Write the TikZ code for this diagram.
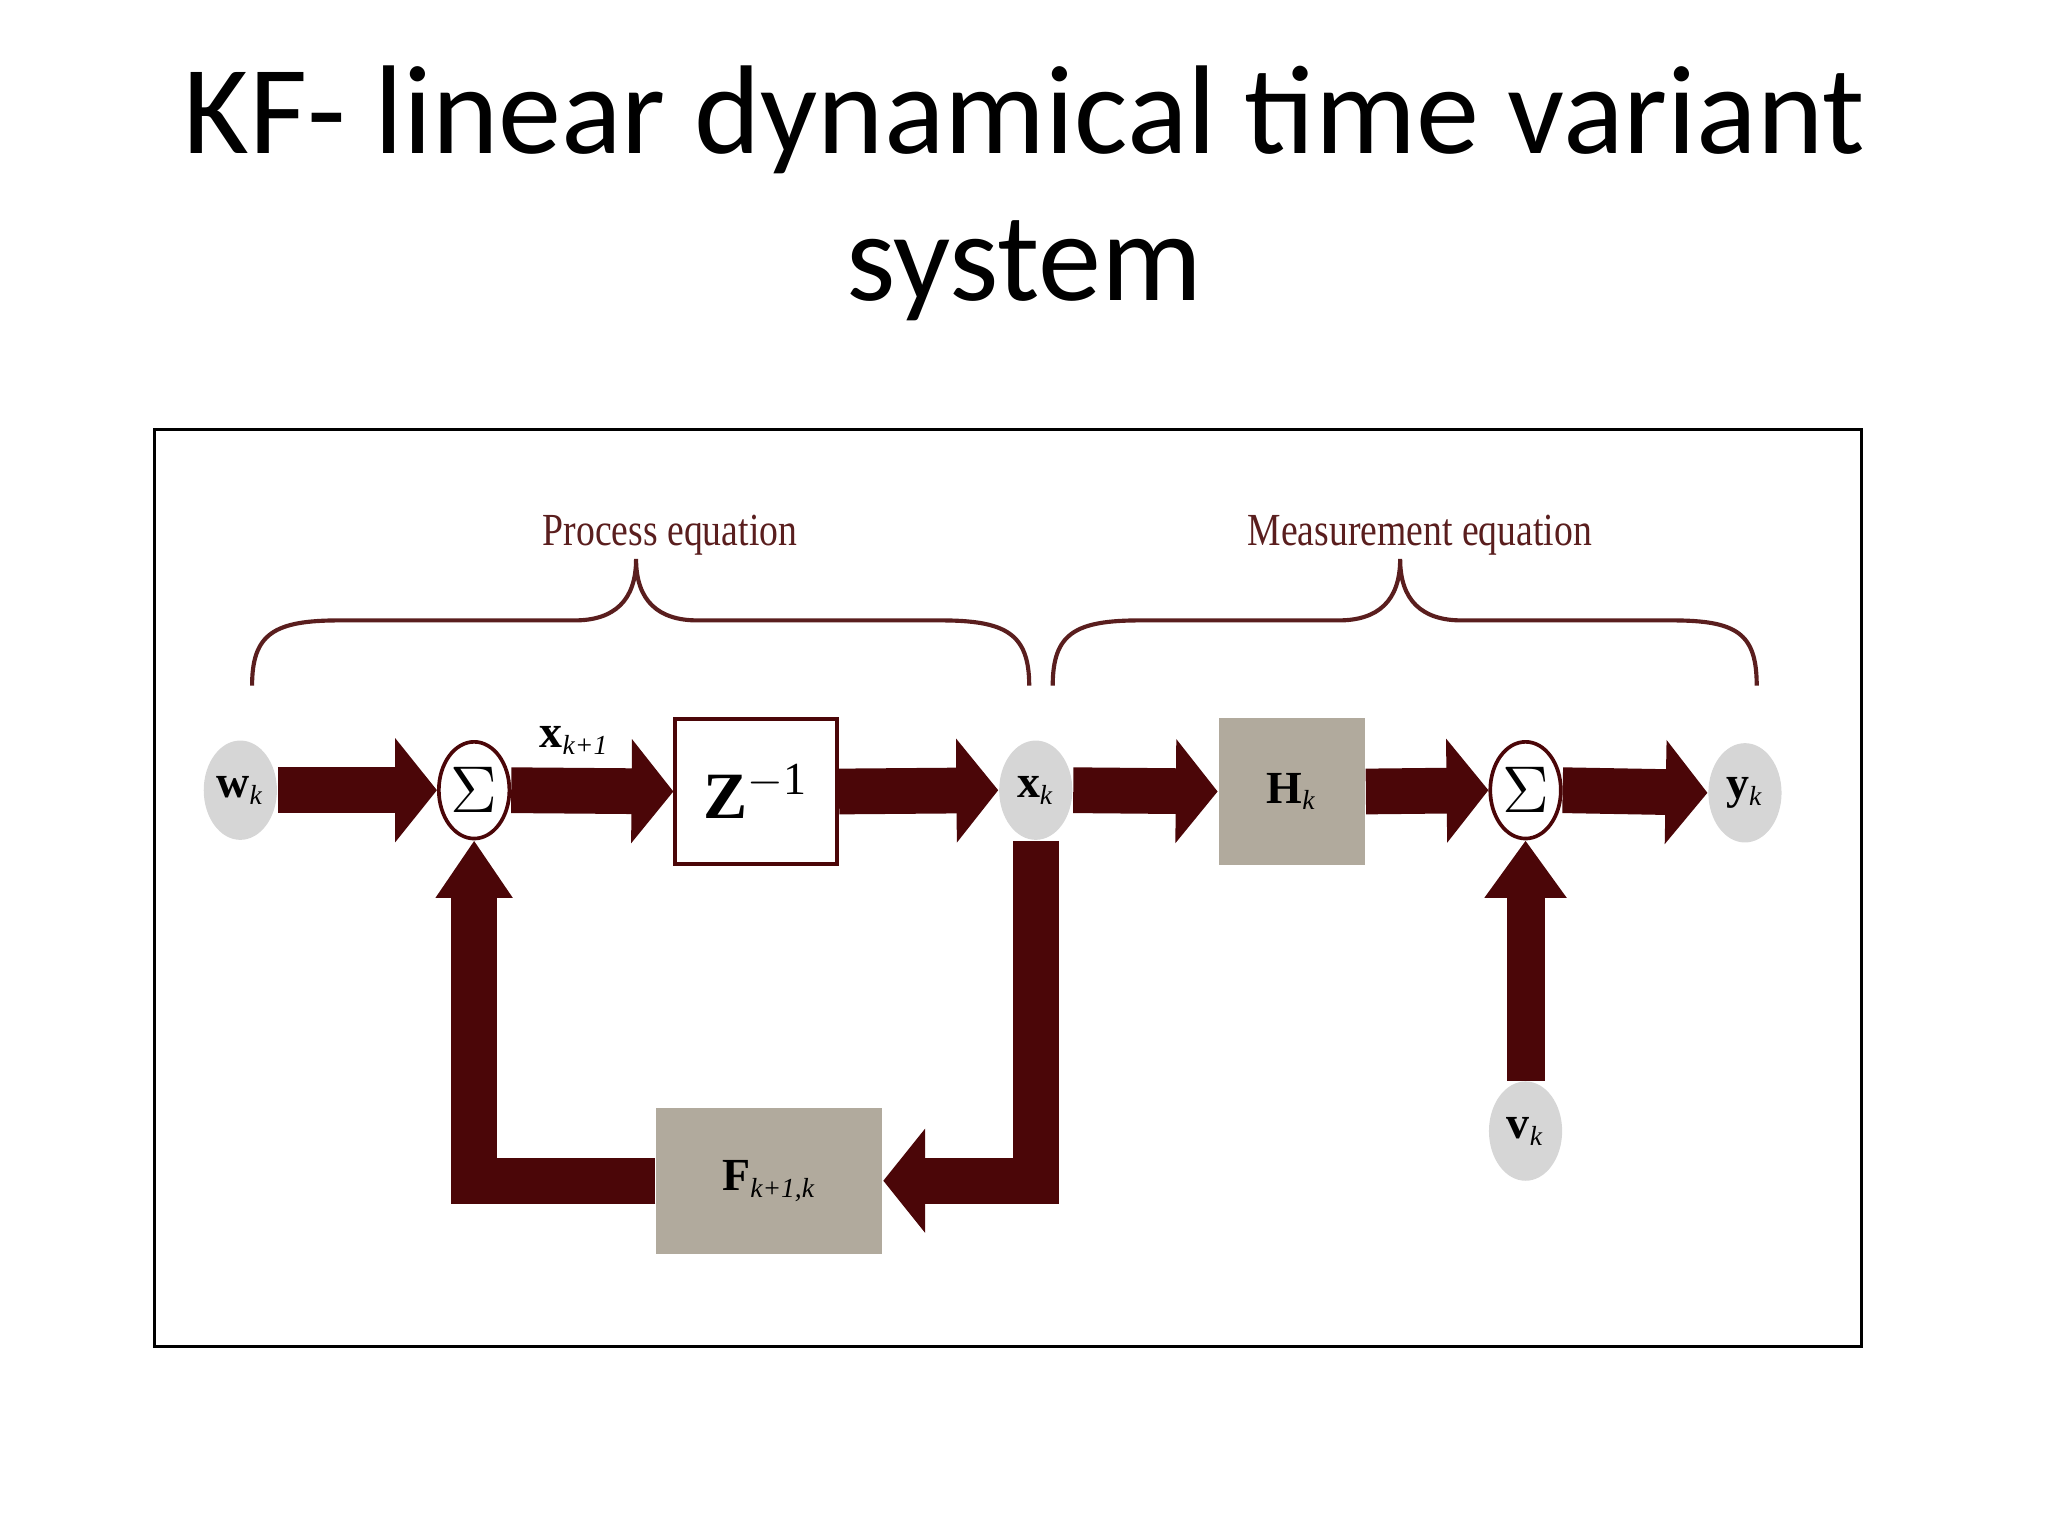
\documentclass[tikz,border=0pt]{standalone}
\usepackage{fontspec}
\setmainfont{Liberation Serif}
\newfontfamily\titlefont{Carlito}
\usetikzlibrary{arrows.meta,shapes.geometric}
\definecolor{arr}{HTML}{4B0608}
\definecolor{gcirc}{HTML}{D6D6D6}
\definecolor{gbox}{HTML}{B1AA9D}
\definecolor{brc}{HTML}{5A1E1E}
\newcommand{\sbk}[1]{\textsubscript{\fontsize{6}{7}\selectfont\itshape\mdseries #1}}
\tikzset{
  fat/.style={draw=arr,line width=3.5mm,miter limit=10,-{Triangle[length=3.2mm,width=7.8mm]}},
  fatv/.style={draw=arr,line width=2.9mm,-{Triangle[length=4.4mm,width=6mm]}},
  sig/.style={ellipse,draw=arr,fill=white,line width=0.8pt,minimum width=5.4mm,minimum height=7.4mm,inner sep=0pt,font=\Large},
  gc/.style={ellipse,fill=gcirc,minimum width=5.6mm,minimum height=7.6mm,inner sep=0pt,font=\bfseries\normalsize},
  brace/.style={draw=brc,line width=0.9pt},
  lab/.style={text=brc,font=\fontsize{10}{12}\selectfont,xscale=0.82}
}
\begin{document}
\begin{tikzpicture}[x=0.01cm,y=-0.01cm]
\useasboundingbox (0,0) rectangle (1568,1176);
\node[font=\titlefont\fontsize{27.5}{32}\selectfont] (t1) at (784,92) {KF- linear dynamical time variant};
\node[font=\titlefont\fontsize{27.5}{32}\selectfont] (t2) at (784,207) {system};
\draw[line width=0.6pt] (118,329) rectangle (1425,1031);
% braces
\draw[brace] (193,525) .. controls (193,485) and (210,475) .. (260,475) -- (440,475) .. controls (470,475) and (487,460) .. (487,428)
  .. controls (487,460) and (504,475) .. (534,475) -- (720,475) .. controls (770,475) and (788,485) .. (788,525);
\draw[brace] (806,525) .. controls (806,485) and (823,475) .. (873,475) -- (1025,475) .. controls (1055,475) and (1072,460) .. (1072,428)
  .. controls (1072,460) and (1089,475) .. (1119,475) -- (1280,475) .. controls (1330,475) and (1345,485) .. (1345,525);
\node[lab] (pl) at (513,410) {Process equation};
\node[lab] (ml) at (1087,410) {Measurement equation};
% nodes
\node[gc] (wk) at (184,605) {w\sbk{k}};
\node[gc] (xk) at (793,605) {x\sbk{k}};
\node[gc] (yk) at (1336,607) {y\sbk{k}};
\node[gc] (vk) at (1168,866) {v\sbk{k}};
\node[sig] (s1) at (363,605) {$\Sigma$};
\node[sig] (s2) at (1168,605) {$\Sigma$};
\node[draw=arr,fill=white,line width=0.8pt,minimum width=12.4mm,minimum height=11.1mm,font=\bfseries\Large] (z) at (579,606) {Z\textsuperscript{\mdseries\normalsize $-$1}};
\node[fill=gbox,minimum width=11.2mm,minimum height=11.2mm,font=\bfseries\normalsize] (h) at (989,606) {H\sbk{k}};
\node[fill=gbox,minimum width=17.3mm,minimum height=11.2mm,font=\bfseries\normalsize] (f) at (589,904) {F\sbk{k+1,k}};
\node[font=\bfseries\normalsize] (xl) at (440,567) {x\sbk{k+1}};
% arrows
\draw[fat] (wk.east) -- (s1.west);
\draw[fat] (s1.east) -- (z.west);
\draw[fat] (z.east) -- (xk.west);
\draw[fat] (xk.east) -- (h.west);
\draw[fat] (h.east) -- (s2.west);
\draw[fat] (s2.east) -- (yk.west);
\draw[fatv] (vk.north) -- (s2.south);
\draw[fat] (xk.south) |- (f.east);
\draw[fat,-{Triangle[length=4.4mm,width=5.6mm]}] (f.west) -| (s1.south);
\end{tikzpicture}
\end{document}
